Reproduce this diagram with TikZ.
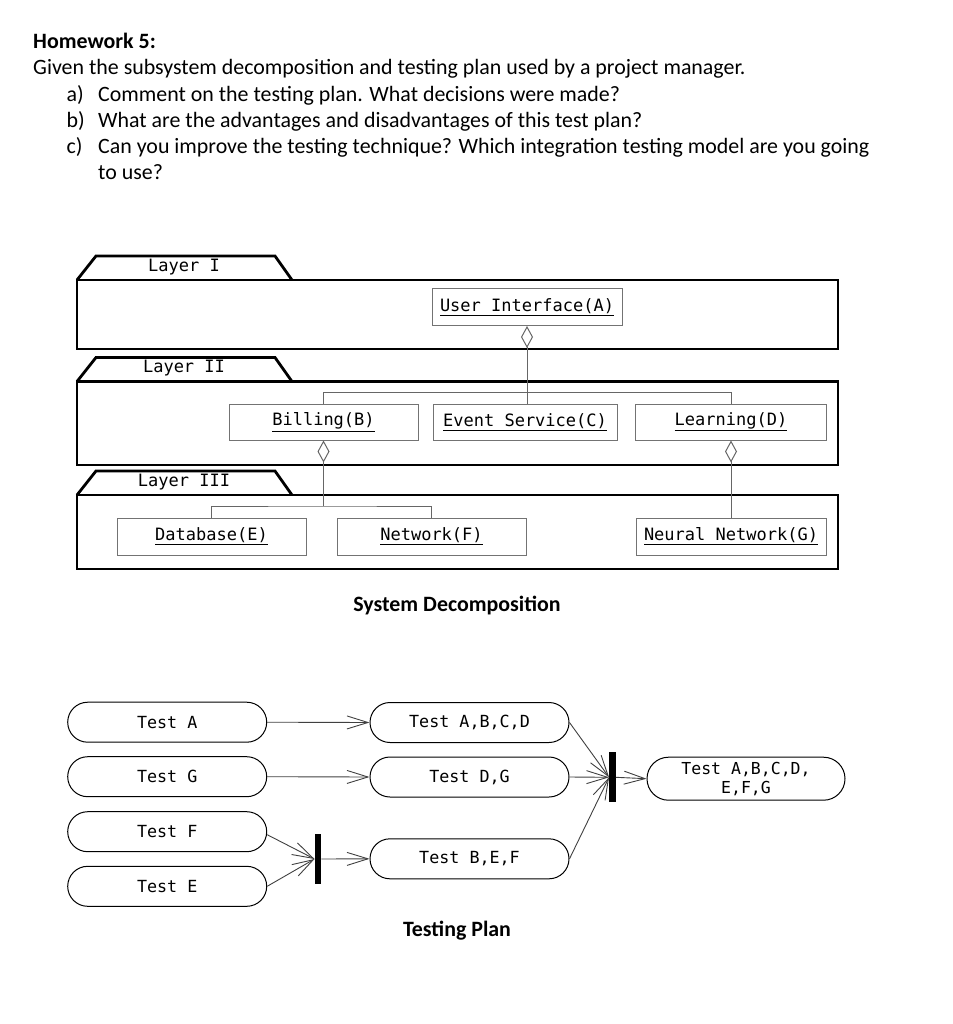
\documentclass[tikz,border=0pt]{standalone}
\usepackage{fontspec}
\setmainfont{Carlito}
\newfontfamily\monof{DejaVu Sans Mono}
\usetikzlibrary{arrows.meta,shapes.misc}
\begin{document}
\begin{tikzpicture}[x=1pt,y=-1pt,
  txt/.style={inner sep=0pt, anchor=base west, font=\fontsize{21.9}{25}\selectfont},
  ttl/.style={inner sep=0pt, font=\fontsize{21.9}{25}\selectfont\bfseries},
  layerbox/.style={draw, line width=2.8pt},
  layertab/.style={draw, line width=2.8pt, line join=miter},
  layertxt/.style={inner sep=0pt, font=\monof\fontsize{17}{19}\selectfont},
  comp/.style={draw=black!55, line width=1pt, minimum height=36pt, inner sep=0pt,
    font=\monof\fontsize{17}{19}\selectfont},
  link/.style={draw=black!60, line width=1pt},
  aggr/.style={link, {Diamond[open,length=22pt,width=12pt]}-},
  test/.style={draw, rounded rectangle, line width=1pt, minimum height=40pt, inner sep=0pt,
    font=\monof\fontsize{16.7}{19}\selectfont, align=center},
  bar/.style={fill=black, inner sep=0pt, minimum width=6.5pt},
  flow/.style={draw=black!75, line width=0.9pt, -{Straight Barb[length=21pt,width=13pt]}}
]
\useasboundingbox (0,0) rectangle (952,1024);

% ---- header text ----
\node[txt, font=\fontsize{21.9}{25}\selectfont\bfseries] (hw) at (33,48.5) {Homework 5:};
\node[txt] (l1) at (33,75) {Given the subsystem decomposition and testing plan used by a project manager.};
\node[txt] (la) at (66.5,101.5) {a)};
\node[txt] (qa) at (98,101.5) {Comment on the testing plan. What decisions were made?};
\node[txt] (lb) at (66.5,127.5) {b)};
\node[txt] (qb) at (98,127.5) {What are the advantages and disadvantages of this test plan?};
\node[txt] (lc) at (66.5,154) {c)};
\node[txt] (qc) at (98,154) {Can you improve the testing technique? Which integration testing model are you going};
\node[txt] (qc2) at (98,180) {to use?};

% ---- layers ----
\draw[layertab] (77,280) -- (96,256) -- (275,256) -- (292,280);
\node[layertxt] (t1) at (184,267) {Layer I};
\draw[layerbox] (77,280) rectangle (838,349);

\draw[layertab] (77,381.5) -- (96,357.5) -- (275,357.5) -- (292,381.5);
\node[layertxt] (t2) at (184,368.5) {Layer II};
\draw[layerbox] (77,381.5) rectangle (838,465);

\draw[layertab] (77,495) -- (96,471) -- (275,471) -- (292,495);
\node[layertxt] (t3) at (184,482) {Layer III};
\draw[layerbox] (77,495) rectangle (838,569);

% ---- components ----
\node[comp, minimum width=190pt, minimum height=37pt] (ui) at (527,307) {\underline{User Interface(A)}};
\node[comp, minimum width=189pt] (bill) at (323.5,422) {\underline{Billing(B)}};
\node[comp, minimum width=184pt] (ev) at (525,422) {\underline{Event Service(C)}};
\node[comp, minimum width=191pt] (learn) at (731,422) {\underline{Learning(D)}};
\node[comp, minimum width=189pt, minimum height=37pt] (db) at (211.5,536.5) {\underline{Database(E)}};
\node[comp, minimum width=189pt, minimum height=37pt] (net) at (431.5,536.5) {\underline{Network(F)}};
\node[comp, minimum width=190pt, minimum height=37pt] (nn) at (731,536.5) {\underline{Neural Network(G)}};

\coordinate (busB) at (323.5,392);
\coordinate (busE) at (323.5,506);

\draw[aggr] (ui.south) -- (ui.south |- ev.north);
\draw[link] (bill.north) -- (busB) -- (busB -| learn.north) -- (learn.north);
\draw[aggr] (bill.south) -- (busE);
\draw[link] (db.north) |- (busE) -| (net.north);
\draw[aggr] (learn.south) -- (nn.north);

\node[ttl] (sd) at (457,606) {System Decomposition};

% ---- testing plan ----
\node[test, minimum width=199pt] (ta) at (167.2,722.2) {Test A};
\node[test, minimum width=199pt] (tg) at (167.2,776.7) {Test G};
\node[test, minimum width=199pt] (tf) at (167.2,831.7) {Test F};
\node[test, minimum width=199pt] (te) at (167.2,886.3) {Test E};
\node[test, minimum width=199pt] (tabcd) at (469.5,722.5) {Test A,B,C,D};
\node[test, minimum width=199pt] (tdg) at (469.5,777) {Test D,G};
\node[test, minimum width=199pt] (tbef) at (469.5,858.8) {Test B,E,F};
\node[test, minimum width=198pt, minimum height=43pt, font=\monof\fontsize{16.5}{19}\selectfont] (tall) at (746,778.7) {Test A,B,C,D,\\E,F,G};

\node[bar, minimum height=50pt] (bar1) at (318,859) {};
\node[bar, minimum height=50pt] (bar2) at (612.5,777.3) {};

\draw[flow] (ta.east) -- (tabcd.west);
\draw[flow] (tg.east) -- (tdg.west);
\draw[flow] ([yshift=-3pt]tf.east) -- (bar1.west);
\draw[flow] (te.east) -- (bar1.west);
\draw[flow] (bar1.east) -- (tbef.west);
\draw[flow] (tabcd.east) -- (bar2.west);
\draw[flow] (tdg.east) -- (bar2.west);
\draw[flow] (tbef.east) -- (bar2.west);
\draw[flow] (bar2.east) -- (tall.west);

\node[ttl] (tp) at (457,931) {Testing Plan};
\end{tikzpicture}
\end{document}
